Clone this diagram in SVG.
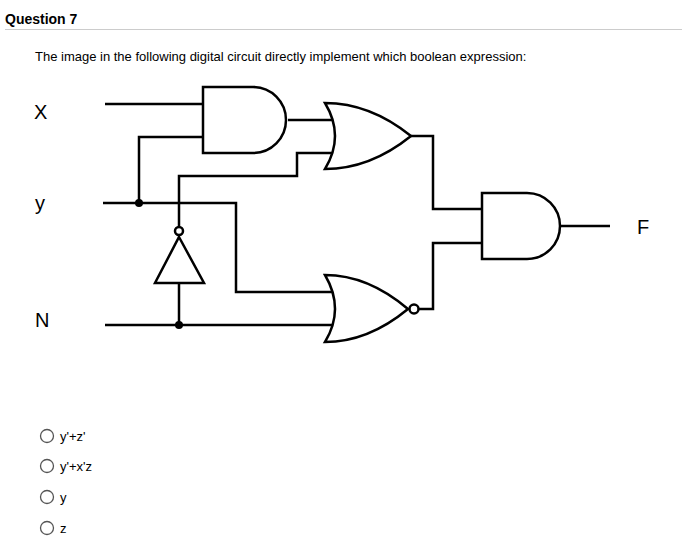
<svg xmlns="http://www.w3.org/2000/svg" width="682" height="545" viewBox="0 0 682 545">
<style>
.w{fill:none;stroke:#000;stroke-width:2.5}
.g{fill:#fff;stroke:#000;stroke-width:2.5}
.t{font-family:"Liberation Sans",Arial,sans-serif;fill:#000}
.lbl{font-family:"Liberation Sans",Arial,sans-serif;font-size:20px}
.opt{fill:#fff;stroke:#555;stroke-width:1.3}
</style>
<rect width="682" height="545" fill="#fff"/>
<text class="t" x="5" y="24" font-size="14" font-weight="bold">Question 7</text>
<line x1="5" y1="29.5" x2="682" y2="29.5" stroke="#ccc" stroke-width="1"/>
<text class="t" x="35" y="61" font-size="13">The image in the following digital circuit directly implement which boolean expression:</text>
<g id="labels">
<text class="lbl" x="34" y="119">X</text>
<text class="lbl" x="35" y="210">y</text>
<text class="lbl" x="35" y="327">N</text>
<text class="lbl" x="637" y="234">F</text>
</g>
<g id="connectors">
<polyline class="w" points="105,104 203,104"/>
<polyline class="w" points="203,137 139,137 139,203"/>
<polyline class="w" points="103,203 236,203 236,292 333,292"/>
<polyline class="w" points="288,120 333,120"/>
<polyline class="w" points="333,153 297,153 297,176 179,176 179,227"/>
<polyline class="w" points="179,283 179,325"/>
<polyline class="w" points="105,325 333,325"/>
<polyline class="w" points="411,136 433,136 433,209 482,209"/>
<polyline class="w" points="419,309 433,309 433,243 482,243"/>
<polyline class="w" points="560,226 610,226"/>
<circle cx="139" cy="203" r="4"/>
<circle cx="179" cy="325" r="4"/>
</g>
<g id="and1"><path class="g" d="M203,87 H253 A33,33 0 0 1 253,153 H203 Z"/></g>
<g id="or1"><path class="g" d="M325,103 Q370,103 411,136 Q370,169 325,169 Q345,136 325,103 Z"/></g>
<g id="not1"><path class="g" d="M179,237 L204,283 L155,283 Z"/><circle class="g" cx="179" cy="231" r="4"/></g>
<g id="nor1"><path class="g" d="M325,275 Q368,275 408,309 Q368,342 325,342 Q345,309 325,275 Z"/><circle class="g" cx="414" cy="309" r="4.5"/></g>
<g id="and2"><path class="g" d="M482,193 H527 A33,33 0 0 1 527,259 H482 Z"/></g>
<g id="options">
<circle class="opt" cx="47" cy="436" r="6.5"/><text class="t" x="60" y="441" font-size="13">y'+z'</text>
<circle class="opt" cx="47" cy="466" r="6.5"/><text class="t" x="60" y="471" font-size="13">y'+x'z</text>
<circle class="opt" cx="47" cy="497" r="6.5"/><text class="t" x="60" y="502" font-size="13">y</text>
<circle class="opt" cx="47" cy="528" r="6.5"/><text class="t" x="60" y="533" font-size="13">z</text>
</g>
</svg>
